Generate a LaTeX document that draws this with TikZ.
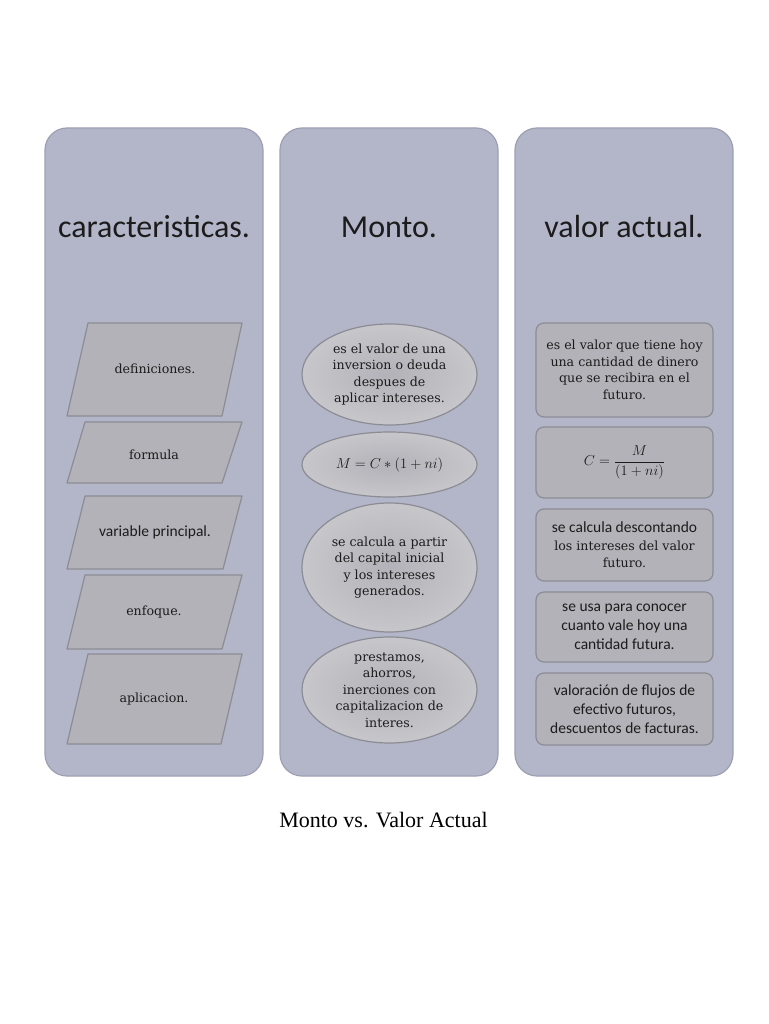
\documentclass[tikz,border=0pt]{standalone}
\usepackage{fontspec}
\usepackage{amsmath}
\usetikzlibrary{shapes.geometric}
\newfontfamily\calfont{Carlito}
\newfontfamily\camfont{DejaVu Serif}
\newfontfamily\timfont{Liberation Serif}
\definecolor{colfill}{RGB}{179,182,201}
\definecolor{coledge}{RGB}{158,160,178}
\definecolor{boxfill}{RGB}{178,178,184}
\definecolor{boxlite}{RGB}{198,198,203}
\definecolor{boxedge}{RGB}{140,140,148}
\definecolor{txtdark}{RGB}{28,28,28}
\tikzset{
  colbox/.style={fill=colfill, draw=coledge, line width=1.2pt, rounded corners=22pt},
  coltitle/.style={anchor=base, text=txtdark, font=\calfont\fontsize{32}{38}\selectfont},
  para/.style={fill=boxfill, draw=boxedge, line width=1.2pt, line join=round},
  oval/.style={inner color=boxfill, outer color=boxlite, draw=boxedge, line width=1.2pt},
  sertxt/.style={align=center, text=txtdark, font=\camfont\fontsize{12.6}{16.5}\selectfont},
  santxt/.style={align=center, text=txtdark, font=\calfont\fontsize{15.5}{19}\selectfont},
  mathtxt/.style={text=txtdark, font=\fontsize{15.5}{18}\selectfont},
  rbox/.style={rectangle, rounded corners=8pt, fill=boxfill, draw=boxedge, line width=1.2pt,
    minimum width=177pt, inner sep=0pt},
}

\begin{document}
\begin{tikzpicture}[x=1pt, y=-1pt]
    \useasboundingbox (0,0) rectangle (768,1024);
    \fill[white] (0,0) rectangle (768,1024);
    % columns
    \draw[colbox] (45,128) rectangle (263,776);
    \draw[colbox] (280,128) rectangle (498,776);
    \draw[colbox] (515,128) rectangle (733,776);
    \node (ttlcar) at (154,237) [coltitle] {caracteristicas.};
    \node (ttlmon) at (389,237) [coltitle] {Monto.};
    \node (ttlval) at (624,237) [coltitle] {valor actual.};

    % caracteristicas
    \draw[para] (88,323) -- (242,323) -- (222,416) -- (67,416) -- cycle;
    \draw[para] (85,422) -- (242,422) -- (222,483) -- (67,483) -- cycle;
    \draw[para] (85,496) -- (242,496) -- (223,569) -- (67,569) -- cycle;
    \draw[para] (85,575) -- (242,575) -- (222,649) -- (67,649) -- cycle;
    \draw[para] (88,654) -- (242,654) -- (221,744) -- (67,744) -- cycle;
    \node (defin) at (155,369) [sertxt] {definiciones.};
    \node (formu) at (154,455) [sertxt] {formula};
    \node (varpr) at (155,532) [santxt] {variable principal.};
    \node (enfoq) at (154,612) [sertxt] {enfoque.};
    \node (aplic) at (154,699) [sertxt] {aplicacion.};

    % Monto
    \draw[oval] (389.5,374.5) ellipse [x radius=87.5, y radius=50.5];
    \draw[oval] (389.5,464.5) ellipse [x radius=87.5, y radius=32.5];
    \draw[oval] (389.5,567.5) ellipse [x radius=87.5, y radius=64.5];
    \draw[oval] (389.5,690) ellipse [x radius=87.5, y radius=53];
    \node (mdef) at (389.5,374.5) [sertxt] {es el valor de una\\inversion o deuda\\despues de\\aplicar intereses.};
    \node (mfor) at (389.5,464.5) [mathtxt] {$M = C * (1+ni)$};
    \node (mcal) at (389.5,567.5) [sertxt] {se calcula a partir\\del capital inicial\\y los intereses\\generados.};
    \node (muso) at (389.5,690) [sertxt] {prestamos,\\ahorros,\\inerciones con\\capitalizacion de\\interes.};

    % valor actual
    \node (vdef) at (624.5,370) [rbox, minimum height=94pt, sertxt]
      {es el valor que tiene hoy\\una cantidad de dinero\\que se recibira en el\\futuro.};
    \node (vfor) at (624.5,462.5) [rbox, minimum height=71pt, mathtxt] {$C = \dfrac{M}{(1+ni)}$};
    \node (vcal) at (624.5,545) [rbox, minimum height=72pt, sertxt, font=\camfont\fontsize{12.6}{17.5}\selectfont]
      {{\calfont\fontsize{15.5}{17.5}\selectfont se calcula descontando}\\los intereses del valor\\futuro.};
    \node (vuso) at (624.5,627) [rbox, minimum height=70pt, santxt]
      {se usa para conocer\\cuanto vale hoy una\\cantidad futura.};
    \node (vapl) at (624.5,709) [rbox, minimum height=72pt, santxt]
      {valoración de flujos de\\efectivo futuros,\\descuentos de facturas.};

    \node (capt) at (383.5,827) [anchor=base, font=\timfont\fontsize{22}{26}\selectfont] {Monto vs. Valor Actual};
\end{tikzpicture}
\end{document}
